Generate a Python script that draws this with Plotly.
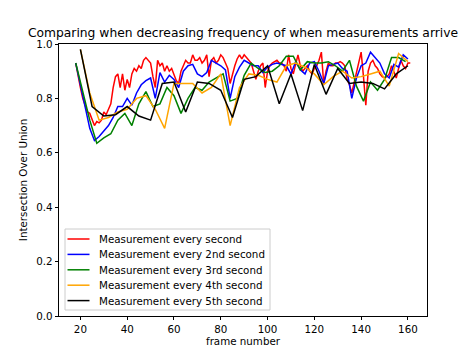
import plotly.graph_objects as go

# ---------------- data ----------------
frames_1 = list(range(18, 162))          # every frame
frames_2 = list(range(18, 161, 2))       # every 2nd
frames_3 = list(range(18, 160, 3))       # every 3rd
frames_4 = list(range(20, 161, 4))       # every 4th
frames_5 = list(range(20, 161, 5))       # every 5th

iou_1 = [
    0.93, 0.88, 0.84, 0.80, 0.77, 0.75, 0.745, 0.72, 0.70, 0.715,   # 18-27
    0.71, 0.72, 0.75, 0.74, 0.76, 0.78, 0.84, 0.88, 0.89, 0.84,     # 28-37
    0.89, 0.83, 0.87, 0.84, 0.89, 0.91, 0.90, 0.92, 0.91, 0.94,     # 38-47
    0.95, 0.94, 0.93, 0.88, 0.84, 0.94, 0.92, 0.93, 0.90, 0.92,     # 48-57
    0.90, 0.91, 0.89, 0.865, 0.855, 0.90, 0.92, 0.94, 0.93, 0.93,   # 58-67
    0.96, 0.94, 0.94, 0.95, 0.93, 0.94, 0.96, 0.88, 0.94, 0.95,     # 68-77
    0.93, 0.94, 0.96, 0.95, 0.93, 0.91, 0.855, 0.89, 0.92, 0.945,   # 78-87
    0.96, 0.945, 0.96, 0.95, 0.94, 0.93, 0.90, 0.87, 0.90, 0.92,    # 88-97
    0.93, 0.84, 0.90, 0.92, 0.93, 0.935, 0.94, 0.93, 0.93, 0.92,    # 98-107
    0.90, 0.96, 0.91, 0.89, 0.93, 0.96, 0.92, 0.90, 0.91, 0.92,     # 108-117
    0.90, 0.89, 0.91, 0.92, 0.94, 0.97, 0.855, 0.90, 0.93, 0.92,    # 118-127
    0.92, 0.93, 0.93, 0.935, 0.93, 0.92, 0.87, 0.85, 0.82, 0.86,    # 128-137
    0.90, 0.94, 0.97, 0.88, 0.775, 0.90, 0.93, 0.94, 0.92, 0.91,    # 138-147
    0.89, 0.88, 0.875, 0.88, 0.89, 0.92, 0.90, 0.875, 0.91, 0.94,   # 148-157
    0.92, 0.91, 0.93, 0.93,                                         # 158-161
]

iou_2 = [
    0.93, 0.85, 0.76, 0.69, 0.645, 0.66, 0.68, 0.70, 0.73, 0.77,    # 18-36
    0.77, 0.80, 0.775, 0.82, 0.85, 0.865, 0.875, 0.80, 0.895, 0.86, # 38-56
    0.885, 0.87, 0.84, 0.90, 0.92, 0.925, 0.89, 0.88, 0.895, 0.94, # 58-76
    0.93, 0.92, 0.905, 0.80, 0.88, 0.915, 0.94, 0.93, 0.92, 0.92,  # 78-96
    0.895, 0.915, 0.925, 0.93, 0.925, 0.92, 0.89, 0.935, 0.905, 0.89, # 98-116
    0.93, 0.935, 0.90, 0.855, 0.92, 0.925, 0.93, 0.91, 0.90, 0.80, # 118-136
    0.875, 0.92, 0.93, 0.97, 0.95, 0.93, 0.89, 0.875, 0.925, 0.915, # 138-156
    0.96, 0.945,                                                     # 158-160
]

iou_3 = [
    0.93, 0.83, 0.72, 0.635, 0.655, 0.67, 0.72, 0.745, 0.70, 0.78,  # 18-45
    0.825, 0.77, 0.78, 0.84, 0.81, 0.745, 0.80, 0.84, 0.83, 0.86,   # 48-75
    0.875, 0.89, 0.79, 0.80, 0.885, 0.93, 0.91, 0.895, 0.90, 0.92,  # 78-105
    0.955, 0.955, 0.905, 0.935, 0.93, 0.93, 0.935, 0.92, 0.90, 0.94, # 108-135
    0.845, 0.79, 0.86, 0.83, 0.87, 0.95, 0.95, 0.935,               # 138-159
]

iou_4 = [
    0.98, 0.82, 0.72, 0.73, 0.75, 0.76, 0.80, 0.81, 0.76, 0.69,     # 20-56
    0.855, 0.855, 0.855, 0.82, 0.84, 0.89, 0.70, 0.84, 0.89, 0.885, # 60-96
    0.87, 0.86, 0.92, 0.93, 0.915, 0.89, 0.85, 0.88, 0.90, 0.875,   # 100-136
    0.88, 0.89, 0.90, 0.845, 0.965, 0.935,                          # 140-160
]

iou_5 = [
    0.98, 0.77, 0.735, 0.74, 0.77, 0.735, 0.72, 0.855, 0.86, 0.75,  # 20-65
    0.86, 0.855, 0.83, 0.73, 0.87, 0.88, 0.92, 0.78, 0.89, 0.755,   # 70-115
    0.925, 0.815, 0.91, 0.855, 0.86, 0.855, 0.835, 0.89, 0.92,      # 120-160
]

series_names = [
    "Measurement every second",
    "Measurement every 2nd second",
    "Measurement every 3rd second",
    "Measurement every 4th second",
    "Measurement every 5th second",
]
series_colors = ["#ff0000", "#0000ff", "#008000", "#ffa500", "#000000"]
x_ticks = [20, 40, 60, 80, 100, 120, 140, 160]
y_ticks = [0.0, 0.2, 0.4, 0.6, 0.8, 1.0]

# ---------------- figure ----------------
# (the page body has an 8px margin, so the figure is sized/margined to compensate)
FIG_W, FIG_H = 466, 347
ML, MR, MT, MB = 51, 47, 36, 39
PW, PH = FIG_W - ML - MR, FIG_H - MT - MB   # plot area 368 x 272

fig = go.Figure()
for xs, ys, name, col in zip(
    [frames_1, frames_2, frames_3, frames_4, frames_5],
    [iou_1, iou_2, iou_3, iou_4, iou_5],
    series_names, series_colors,
):
    fig.add_trace(go.Scatter(x=xs, y=ys, mode="lines", name=name,
                             line=dict(color=col, width=1.5)))

font = "DejaVu Sans, sans-serif"

# ---- matplotlib-style legend box (lower left), positioned in plot-area pixels ----
def px_x(p):   # pixels from plot-area left -> paper x
    return p / PW

def px_y(p):   # pixels from plot-area top -> paper y
    return 1 - p / PH

box_l, box_r, box_t, box_b = 6, 211, 185, 266
row0, row_step = 195, 15.4
shapes = [dict(type="rect", xref="paper", yref="paper",
               x0=px_x(box_l), x1=px_x(box_r), y0=px_y(box_b), y1=px_y(box_t),
               line=dict(color="#cccccc", width=1), fillcolor="rgba(255,255,255,0.8)",
               layer="above")]
annotations = []
for i, (name, col) in enumerate(zip(series_names, series_colors)):
    yc = px_y(row0 + i * row_step)
    shapes.append(dict(type="line", xref="paper", yref="paper",
                       x0=px_x(8.5), x1=px_x(30.5), y0=yc, y1=yc,
                       line=dict(color=col, width=1.5), layer="above"))
    annotations.append(dict(text=name, xref="paper", yref="paper", x=px_x(37.5), y=yc,
                            xanchor="left", yanchor="middle", showarrow=False,
                            font=dict(family=font, size=10.3, color="black")))

fig.update_layout(
    width=FIG_W, height=FIG_H,
    margin=dict(l=ML, r=MR, t=MT, b=MB, autoexpand=False),
    paper_bgcolor="white", plot_bgcolor="white",
    font=dict(family=font, size=10.3, color="black"),
    title=dict(text="Comparing when decreasing frequency of when measurements arrive",
               x=0.5, xref="paper", xanchor="center",
               y=1, yref="paper", yanchor="bottom", pad=dict(b=7),
               font=dict(family=font, size=12.3, color="black")),
    showlegend=False,
    shapes=shapes,
    annotations=annotations,
)
fig.update_xaxes(range=[10.85, 168.15], tickvals=x_ticks, ticks="outside", ticklen=3.5,
                 tickwidth=0.8, tickcolor="black", automargin=False,
                 showline=True, linecolor="black", linewidth=0.8, mirror=True,
                 showgrid=False, zeroline=False,
                 title=dict(text="frame number", standoff=4, font=dict(size=10.3)))
fig.update_yaxes(range=[0, 1], tickvals=y_ticks, tickformat=".1f", ticks="outside", ticklen=3.5,
                 tickwidth=0.8, tickcolor="black", automargin=False,
                 showline=True, linecolor="black", linewidth=0.8, mirror=True,
                 showgrid=False, zeroline=False,
                 title=dict(text="Intersection Over Union", standoff=6, font=dict(size=10.3)))

fig.write_html("out.html")
